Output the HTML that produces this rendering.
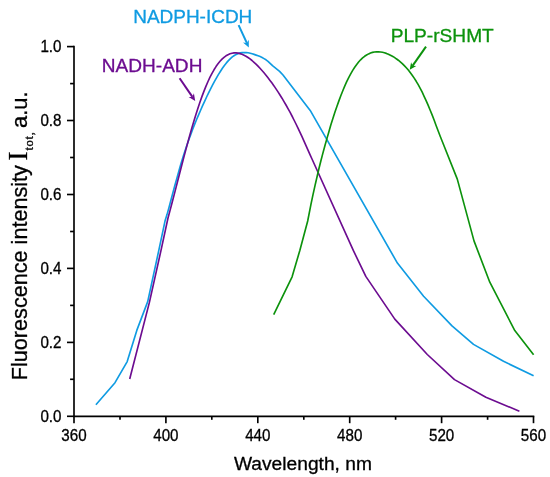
<!DOCTYPE html><html><head><meta charset="utf-8"><title>Fluorescence spectra</title><style>html,body{margin:0;padding:0;background:#fff}svg{display:block}text{font-family:"Liberation Sans",sans-serif}.se{font-family:"Liberation Serif",serif}</style></head><body>
<svg width="550" height="477" viewBox="0 0 550 477">
<rect width="550" height="477" fill="#fff"/>
<g stroke="#000" stroke-width="1.65" fill="none">
<path d="M74.0 45.8 V416.3 H534.3"/>
<path d="M74.0 416.3 v6.9"/>
<path d="M120.0 416.3 v3.5"/>
<path d="M165.9 416.3 v6.9"/>
<path d="M211.8 416.3 v3.5"/>
<path d="M257.8 416.3 v6.9"/>
<path d="M303.8 416.3 v3.5"/>
<path d="M349.7 416.3 v6.9"/>
<path d="M395.6 416.3 v3.5"/>
<path d="M441.6 416.3 v6.9"/>
<path d="M487.6 416.3 v3.5"/>
<path d="M533.5 416.3 v6.9"/>
<path d="M74.0 416.3 h-7.0"/>
<path d="M74.0 379.3 h-3.9"/>
<path d="M74.0 342.4 h-7.0"/>
<path d="M74.0 305.4 h-3.9"/>
<path d="M74.0 268.4 h-7.0"/>
<path d="M74.0 231.5 h-3.9"/>
<path d="M74.0 194.5 h-7.0"/>
<path d="M74.0 157.5 h-3.9"/>
<path d="M74.0 120.5 h-7.0"/>
<path d="M74.0 83.6 h-3.9"/>
<path d="M74.0 46.6 h-7.0"/>
</g>
<text transform="translate(74.00,441.30) scale(0.9600,1)" font-size="15.80" fill="#000" stroke="#000" stroke-width="0.30" text-anchor="middle">360</text>
<text transform="translate(165.90,441.30) scale(0.9600,1)" font-size="15.80" fill="#000" stroke="#000" stroke-width="0.30" text-anchor="middle">400</text>
<text transform="translate(257.80,441.30) scale(0.9600,1)" font-size="15.80" fill="#000" stroke="#000" stroke-width="0.30" text-anchor="middle">440</text>
<text transform="translate(349.70,441.30) scale(0.9600,1)" font-size="15.80" fill="#000" stroke="#000" stroke-width="0.30" text-anchor="middle">480</text>
<text transform="translate(441.60,441.30) scale(0.9600,1)" font-size="15.80" fill="#000" stroke="#000" stroke-width="0.30" text-anchor="middle">520</text>
<text transform="translate(533.50,441.30) scale(0.9600,1)" font-size="15.80" fill="#000" stroke="#000" stroke-width="0.30" text-anchor="middle">560</text>
<text transform="translate(61.50,421.70) scale(0.9600,1)" font-size="15.80" fill="#000" stroke="#000" stroke-width="0.30" text-anchor="end">0.0</text>
<text transform="translate(61.50,347.76) scale(0.9600,1)" font-size="15.80" fill="#000" stroke="#000" stroke-width="0.30" text-anchor="end">0.2</text>
<text transform="translate(61.50,273.82) scale(0.9600,1)" font-size="15.80" fill="#000" stroke="#000" stroke-width="0.30" text-anchor="end">0.4</text>
<text transform="translate(61.50,199.88) scale(0.9600,1)" font-size="15.80" fill="#000" stroke="#000" stroke-width="0.30" text-anchor="end">0.6</text>
<text transform="translate(61.50,125.94) scale(0.9600,1)" font-size="15.80" fill="#000" stroke="#000" stroke-width="0.30" text-anchor="end">0.8</text>
<text transform="translate(61.50,52.00) scale(0.9600,1)" font-size="15.80" fill="#000" stroke="#000" stroke-width="0.30" text-anchor="end">1.0</text>
<text transform="translate(302.90,469.70) scale(1.0330,1)" font-size="18.60" fill="#000" stroke="#000" stroke-width="0.30" text-anchor="middle">Wavelength, nm</text>
<text transform="translate(26.60,380.20) rotate(-90) scale(1.0155,1)" font-size="21.30" fill="#000" stroke="#000" stroke-width="0.30" text-anchor="start">Fluorescence intensity</text>
<text transform="translate(26.80,160.40) rotate(-90)" font-size="27.00" fill="#000" stroke="#000" stroke-width="0.30" text-anchor="start" class="se">I</text>
<text transform="translate(33.00,150.60) rotate(-90)" font-size="12.60" fill="#000" stroke="#000" stroke-width="0.30" text-anchor="start" class="se" letter-spacing="0.70">tot,</text>
<text transform="translate(26.90,128.00) rotate(-90) scale(1.0300,1)" font-size="21.30" fill="#000" stroke="#000" stroke-width="0.30" text-anchor="start">a.u.</text>
<polyline fill="none" stroke="#0f9be2" stroke-width="1.65" stroke-linejoin="round" points="95.9,404.7 115.0,382.7 127.2,361.6 136.8,330.4 147.7,301.6 158.8,250.4 165.0,221.1 167.0,214.6 169.0,207.5 170.9,200.2 172.9,192.7 174.9,185.3 176.9,178.1 178.9,171.0 180.8,164.2 182.8,157.7 184.8,151.5 186.8,145.5 188.8,139.8 190.8,134.4 192.7,129.2 194.7,124.1 196.7,119.3 198.7,114.6 200.7,110.0 202.6,105.6 204.6,101.3 206.6,97.0 208.6,92.9 210.6,88.9 212.5,85.1 214.5,81.3 216.5,77.8 218.5,74.4 220.5,71.2 222.4,68.2 224.4,65.4 226.4,62.9 228.4,60.6 230.4,58.6 232.3,56.9 234.3,55.5 236.3,54.4 238.3,53.5 240.3,52.9 242.2,52.6 244.2,52.5 246.2,52.6 248.2,52.8 250.2,53.2 252.2,53.8 254.1,54.4 256.1,55.1 258.1,55.8 260.1,56.6 262.1,57.5 264.0,58.6 266.0,59.8 268.0,61.3 272.5,65.7 279.6,71.4 283.0,75.0 310.2,110.4 397.4,263.1 423.6,296.2 452.0,325.9 473.5,344.4 503.5,361.3 533.6,375.8"/>
<polyline fill="none" stroke="#6c0c90" stroke-width="1.65" stroke-linejoin="round" points="129.7,379.0 149.4,302.4 161.0,250.4 168.0,218.0 170.0,210.6 172.0,203.0 174.0,195.4 176.0,187.6 178.0,179.8 180.0,172.0 182.0,164.3 184.0,156.6 186.0,149.1 188.0,141.7 190.0,134.5 192.0,127.5 194.0,120.7 196.0,114.2 198.0,107.9 200.0,102.0 202.0,96.4 204.0,91.1 206.0,86.1 208.0,81.5 210.0,77.2 212.0,73.3 214.0,69.8 216.0,66.6 218.0,63.8 220.0,61.3 222.0,59.1 224.0,57.3 226.0,55.8 228.0,54.7 230.0,53.8 232.0,53.2 234.0,52.9 236.0,52.9 238.0,53.1 240.0,53.6 242.0,54.3 244.0,55.2 246.0,56.2 248.0,57.5 250.0,58.9 252.0,60.5 254.0,62.3 256.0,64.1 258.0,66.1 260.0,68.3 262.0,70.5 264.0,72.8 266.0,75.2 268.0,77.8 270.0,80.4 272.0,83.1 274.0,85.9 276.0,88.9 278.0,91.9 280.0,95.0 282.0,98.2 284.0,101.6 286.0,105.0 288.0,108.6 290.0,112.2 292.0,116.0 294.0,120.0 296.0,124.0 298.0,128.1 300.0,132.4 302.0,136.7 304.0,141.1 306.0,145.6 308.0,150.1 310.0,154.6 312.0,159.0 353.3,250.4 365.8,276.4 394.8,319.1 427.3,354.5 454.5,379.6 485.9,397.3 519.4,411.2"/>
<polyline fill="none" stroke="#0c920c" stroke-width="1.65" stroke-linejoin="round" points="273.7,314.7 292.1,276.8 299.9,250.2 307.7,221.0 311.0,204.1 313.0,194.6 315.0,185.6 317.0,177.0 318.9,168.7 320.9,160.8 322.9,153.1 324.9,145.7 326.9,138.6 328.9,131.7 330.8,125.1 332.8,118.7 334.8,112.5 336.8,106.7 338.8,101.1 340.8,95.8 342.8,90.8 344.7,86.1 346.7,81.7 348.7,77.6 350.7,73.9 352.7,70.4 354.7,67.3 356.7,64.5 358.6,62.0 360.6,59.8 362.6,57.9 364.6,56.3 366.6,55.0 368.6,53.9 370.5,53.0 372.5,52.4 374.5,52.0 376.5,51.8 378.5,51.8 380.5,52.0 382.5,52.3 384.4,52.8 386.4,53.4 388.4,54.2 390.4,55.2 392.4,56.2 394.4,57.4 396.3,58.8 398.3,60.2 400.3,61.9 402.3,63.6 404.3,65.6 406.3,67.7 408.3,70.0 410.2,72.5 412.2,75.2 414.2,78.1 416.2,81.3 418.2,84.7 420.2,88.3 422.2,92.2 424.1,96.3 426.1,100.6 428.1,105.2 430.1,110.0 432.1,114.9 434.1,120.0 436.0,125.2 438.0,130.5 440.0,135.7 442.0,140.8 457.3,179.1 474.0,240.9 489.8,282.2 514.8,330.6 533.6,354.7"/>
<text transform="translate(133.20,22.60) scale(1.0210,1)" font-size="18.60" fill="#0f9be2" stroke="#0f9be2" stroke-width="0.30" text-anchor="start">NADPH-ICDH</text>
<text transform="translate(101.80,72.10) scale(1.0200,1)" font-size="18.70" fill="#6c0c90" stroke="#6c0c90" stroke-width="0.30" text-anchor="start">NADH-ADH</text>
<text transform="translate(390.70,42.40) scale(1.0400,1)" font-size="18.40" fill="#0c920c" stroke="#0c920c" stroke-width="0.30" text-anchor="start">PLP-rSHMT</text>
<path d="M238.6 25.2 L246.8 42.9" stroke="#0f9be2" stroke-width="2.00" fill="none"/><path d="M248.8 47.4 L243.0 42.4 L246.8 42.9 L248.8 39.7 Z" fill="#0f9be2"/>
<path d="M179.6 78.2 L192.4 96.9" stroke="#6c0c90" stroke-width="2.00" fill="none"/><path d="M195.2 100.9 L188.6 96.9 L192.4 96.9 L193.9 93.3 Z" fill="#6c0c90"/>
<path d="M426.0 46.6 L412.5 65.8" stroke="#0c920c" stroke-width="2.00" fill="none"/><path d="M409.7 69.8 L411.1 62.2 L412.5 65.8 L416.3 65.9 Z" fill="#0c920c"/>
</svg></body></html>
